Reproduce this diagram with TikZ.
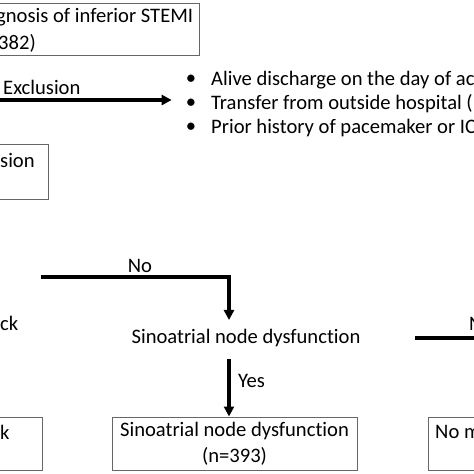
\documentclass[tikz,border=0pt]{standalone}
\usepackage{fontspec}
\setmainfont{Carlito}[Ligatures={NoCommon}]
\usetikzlibrary{arrows.meta,positioning}

\tikzset{
  box/.style={draw=black!60, line width=1pt, minimum height=53pt},
  flow/.style={line width=3.2pt, -{Triangle[length=10pt,width=10pt]}},
  plain/.style={line width=3.2pt},
  lbl/.style={inner sep=0pt, font=\fontsize{20.6}{26}\selectfont},
}

\begin{document}
\begin{tikzpicture}[x=1pt,y=-1pt]
  \useasboundingbox (0,0) rectangle (474,474);

  % diagnosis box, cut at the left edge
  \node[box, anchor=north east, minimum width=240pt, minimum height=52pt] (dx) at (200,3) {};
  \node[lbl, anchor=west] (dxa) at (-4,17) {gnosis of inferior STEMI};
  \node[lbl, anchor=west] (dxb) at (-2,43) {382)};

  % exclusion arrow and the list
  \coordinate (exc) at (0,100);
  \node[lbl, anchor=west] (excl) at (3,87) {Exclusion};
  \foreach \yy/\nm/\tx in {80/a/Alive discharge on the day of ac,
                            104/b/Transfer from outside hospital (,
                            128/c/Prior history of pacemaker or IC} {
      \node[lbl, anchor=center] (bul\nm) at (191,\yy) {\textbullet};
      \node[lbl, anchor=west] (item\nm) at (211,\yy) {\tx};
    }
  \draw[flow] (exc) -- ([xshift=-14pt]bulb.west |- exc);

  % inclusion box
  \node[box, anchor=north east, minimum width=100pt, minimum height=55pt] (inc) at (49,144) {};
  \node[lbl, anchor=west] (incl) at (0,160) {sion};

  % branches
  \node[lbl, anchor=west] (blk) at (0,323) {ck};
  \coordinate (axis) at (229,0);
  \coordinate (nol) at (41,277);
  \node[lbl] (sad) at (246,338) {Sinoatrial node dysfunction};
  \node[lbl] (no) at (140,266) {No};
  \draw[flow] (nol) -| ([yshift=9pt]sad.north -| axis);

  \node[box, minimum width=245pt, align=center, lbl, inner sep=0pt] (sadbox) at (234.5,443.5)
    {Sinoatrial node dysfunction\\(n=393)};
  \draw[flow] ([yshift=-12pt]sad.south -| axis) -- (sadbox.north -| axis);
  \node[lbl] (yes) at (251.5,381) {Yes};

  \node[box, anchor=north east, minimum width=100pt] (lbox) at (43,417) {};
  \node[lbl, anchor=west] (lboxt) at (0,432) {k};
  \node[box, anchor=north west, minimum width=100pt] (rbox) at (428,417) {};
  \node[lbl, anchor=west] (rboxt) at (435,432) {No m};

  % right branch, cut at the right edge
  \coordinate (nor) at (415,338);
  \coordinate (nore) at (474,338);
  \draw[plain] (nor) -- (nore);
  \node[lbl, anchor=west] (nolb) at (469,324) {N};
\end{tikzpicture}
\end{document}
